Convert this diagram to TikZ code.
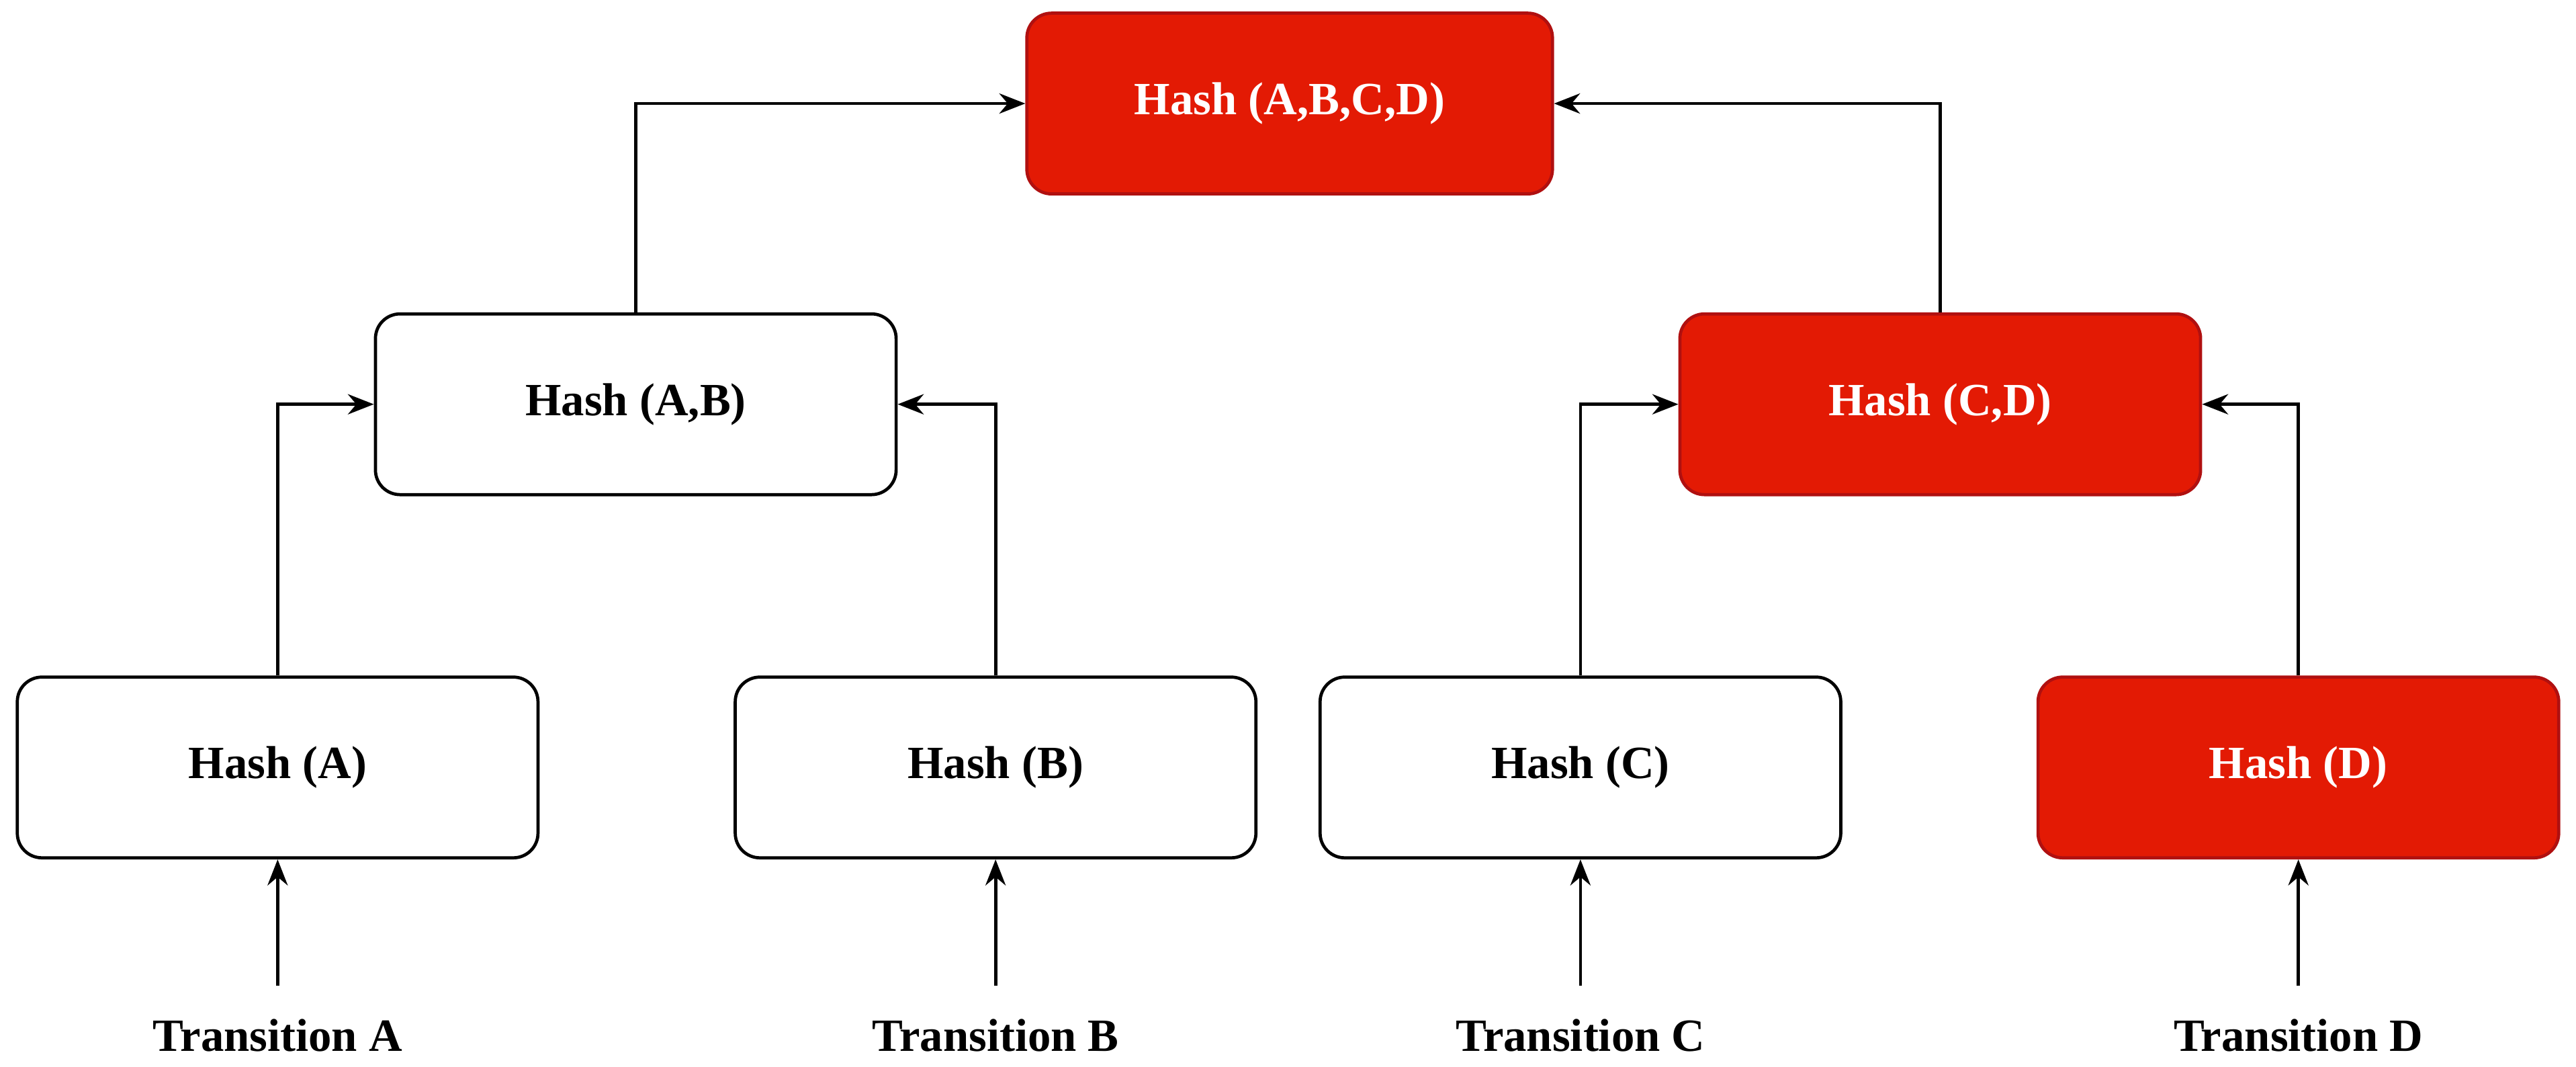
\documentclass[tikz,border=0pt]{standalone}
\usepackage{fontspec}
\setmainfont{Liberation Serif}
\usepackage{xcolor}
\usetikzlibrary{arrows.meta, positioning, calc}
\definecolor{hashred}{HTML}{E31A04}
\definecolor{hashborder}{HTML}{B01010}

\begin{document}
\begin{tikzpicture}[
            x=0.02cm, y=-0.02cm,
            block/.style={rectangle, rounded corners=0.3cm, draw=black, line width=1.1pt, fill=white, minimum width=6.34cm, minimum height=2.2cm, align=center, font=\fontsize{16}{19}\selectfont\bfseries},
            redblock/.style={block, draw=hashborder, fill=hashred, text=white},
            label/.style={font=\fontsize{16}{19}\selectfont\bfseries},
            line/.style={draw, line width=1.1pt, -{Stealth[length=9pt, width=7pt]}}
        ]
        \useasboundingbox (0,0) rectangle (1568,649);

        % --- Root ---
        \node[redblock, minimum width=6.4cm] (root) at (785,63) {Hash (A,B,C,D)};

        % --- Middle level ---
        \node[block] (hab) at (387,246) {Hash (A,B)};
        \node[redblock] (hcd) at (1181,246) {Hash (C,D)};

        % --- Leaves ---
        \node[block] (ha) at (169,467) {Hash (A)};
        \node[block] (hb) at (606,467) {Hash (B)};
        \node[block] (hc) at (962,467) {Hash (C)};
        \node[redblock] (hd) at (1399,467) {Hash (D)};

        % --- Transitions ---
        \node[label] (ta) at (169,630) {Transition A};
        \node[label] (tb) at (606,630) {Transition B};
        \node[label] (tc) at (962,630) {Transition C};
        \node[label] (td) at (1399,630) {Transition D};

        % --- Arrows ---
        \foreach \t/\h in {ta/ha, tb/hb, tc/hc, td/hd}
            \draw[line] ($(\t.north)+(0,-14)$) -- (\h.south);

        \draw[line] (ha.north) |- (hab.west);
        \draw[line] (hb.north) |- (hab.east);
        \draw[line] (hc.north) |- (hcd.west);
        \draw[line] (hd.north) |- (hcd.east);

        \draw[line] (hab.north) |- (root.west);
        \draw[line] (hcd.north) |- (root.east);

\end{tikzpicture}
\end{document}
